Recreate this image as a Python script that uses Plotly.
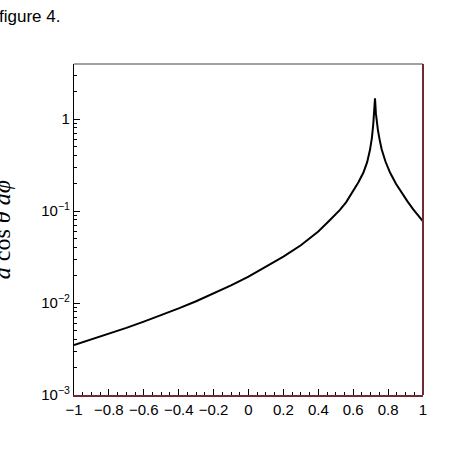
import plotly.graph_objects as go

cos_theta = [-1.0, -0.9, -0.8, -0.7, -0.6, -0.5, -0.4, -0.3, -0.2, -0.1, 0.0, 0.1, 0.2, 0.3, 0.4,
             0.467, 0.524, 0.56, 0.601, 0.63, 0.658, 0.68, 0.696, 0.707, 0.715, 0.72, 0.725,
             0.73, 0.735, 0.742, 0.752, 0.763, 0.785, 0.811, 0.845, 0.878, 0.91, 0.944, 0.97, 1.0]
dsigma = [0.00350, 0.00402, 0.00463, 0.00537, 0.00627, 0.00736, 0.00873, 0.01045, 0.01265, 0.01552,
          0.01936, 0.0246, 0.0319, 0.0424, 0.0600,
          0.080, 0.103, 0.125, 0.165, 0.205, 0.26, 0.34, 0.46, 0.62, 0.88, 1.15, 1.68,
          1.15, 0.95, 0.75, 0.59, 0.47, 0.345, 0.262, 0.198, 0.157, 0.128, 0.104, 0.090, 0.077]

ytick_vals = [0.001, 0.01, 0.1, 1]
ytick_text = ["10<sup>−3</sup>", "10<sup>−2</sup>", "10<sup>−1</sup>", "1"]
ytick_minor = [m * 10 ** e for e in (-3, -2, -1, 0) for m in range(2, 10) if m * 10 ** e < 4]
xtick_vals = [-1, -0.8, -0.6, -0.4, -0.2, 0, 0.2, 0.4, 0.6, 0.8, 1]
xtick_text = ["−1", "−0.8", "−0.6", "−0.4", "−0.2", "0", "0.2", "0.4", "0.6", "0.8", "1"]

fig = go.Figure()
fig.add_trace(go.Scatter(x=cos_theta, y=dsigma, mode="lines",
                         line=dict(color="black", width=2),
                         showlegend=False))

font = dict(family="Liberation Sans, Arial, sans-serif", size=15, color="black")

fig.update_layout(
    width=474, height=466,
    margin=dict(l=74, r=51, t=64, b=71),
    paper_bgcolor="white", plot_bgcolor="white",
    font=font,
    xaxis=dict(range=[-1, 1], tickvals=xtick_vals, ticktext=xtick_text,
               ticks="inside", ticklen=6, tickcolor="black",
               showline=True, linecolor="#6e2a35", linewidth=1.5,
               mirror=False, showgrid=False, zeroline=False,
               minor=dict(dtick=0.05, ticks="inside", ticklen=3, tickcolor="black", showgrid=False)),
    yaxis=dict(type="log", range=[-3, 0.598], tickvals=ytick_vals, ticktext=ytick_text,
               ticks="inside", ticklen=6, tickcolor="black",
               showline=True, linecolor="black", linewidth=1.2,
               mirror=False, showgrid=False, zeroline=False,
               minor=dict(tickvals=ytick_minor, ticks="inside", ticklen=3, tickcolor="black", showgrid=False)),
    shapes=[
        dict(type="line", xref="paper", yref="paper", x0=0, x1=1, y0=1, y1=1,
             line=dict(color="#444444", width=1.2)),
        dict(type="line", xref="paper", yref="paper", x0=1, x1=1, y0=0, y1=1,
             line=dict(color="#6e2a35", width=2)),
    ],
    annotations=[
        dict(text="figure 4.", xref="paper", yref="paper", x=0, y=1, xshift=-77, yshift=48,
             xanchor="left", yanchor="middle", showarrow=False,
             font=dict(family="Liberation Sans, Arial, sans-serif", size=17, color="black")),
        dict(text="<i>d</i> cos <i>θ</i> <i>dφ</i>", xref="paper", yref="paper", x=0, y=0.498,
             xshift=-72, yshift=0, xanchor="center", yanchor="middle", textangle=-90,
             showarrow=False,
             font=dict(family="Liberation Serif, Times New Roman, serif", size=24, color="black")),
    ],
)

fig.write_html("out.html", config={"displayModeBar": False},
               post_script="document.body.style.margin='0';")
